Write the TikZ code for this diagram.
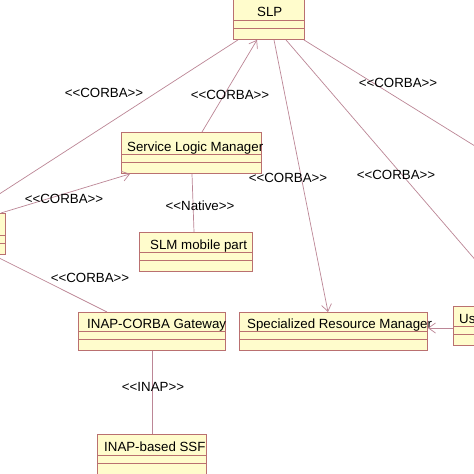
\documentclass[tikz,border=0pt]{standalone}
\usepackage{fontspec}
\setmainfont{Liberation Sans}
\usetikzlibrary{arrows.meta}

\definecolor{classfill}{RGB}{255,252,204}
\definecolor{classedge}{RGB}{186,112,112}
\definecolor{wirecol}{RGB}{188,134,150}
% stereotype text, kerns keep << and >> from turning into guillemets
\newcommand{\stereo}[1]{<\kern0pt<#1>\kern0pt>}

\begin{document}
\begin{tikzpicture}[x=1pt, y=-1pt,
    font=\fontsize{13.3}{16}\selectfont,
    cls/.style={draw=classedge, fill=classfill, line width=0.9pt, inner sep=0pt, anchor=north west},
    wire/.style={draw=wirecol, line width=0.7pt},
    txt/.style={inner sep=0pt, anchor=base west},
    lbl/.style={inner sep=0pt, anchor=base},
    >={Straight Barb[length=7pt,width=10pt]}]
    \clip (0,0) rectangle (474,474);
    \fill[white] (0,0) rectangle (474,474);

    % Class boxes (top left corner, size)
    \node[cls, minimum width=71pt,  minimum height=40pt] (slp) at (233,-1) {};
    \node[cls, minimum width=140pt, minimum height=41pt] (slm) at (121,132) {};
    \node[cls, minimum width=113pt, minimum height=39pt] (mob) at (139,232) {};
    \node[cls, minimum width=147pt, minimum height=38pt] (gw)  at (78,312) {};
    \node[cls, minimum width=188pt, minimum height=38pt] (srm) at (239,312) {};
    \node[cls, minimum width=90pt,  minimum height=39pt] (us)  at (453,306) {};
    \node[cls, minimum width=109pt, minimum height=40pt] (ssf) at (97,434) {};
    \node[cls, minimum width=95pt,  minimum height=41pt] (lft) at (-90,213) {};

    % Attribute and operation compartments
    \foreach \b in {slp,slm,mob,gw,srm,us,ssf,lft}
        \draw[classedge, line width=0.9pt]
            ([yshift=11pt]\b.south west) -- ([yshift=11pt]\b.south east)
            ([yshift=19pt]\b.south west) -- ([yshift=19pt]\b.south east);

    % Class names
    \node[txt] at (257,16.5) {SLP};
    \node[txt] at (127,151) {Service Logic Manager};
    \node[txt] at (150,249) {SLM mobile part};
    \node[txt] at (87,328) {INAP-CORBA Gateway};
    \node[txt] at (247,328) {Specialized Resource Manager};
    \node[txt] at (459,323) {Us};
    \node[txt] at (104,451) {INAP-based SSF};

    % Free end towards a class right of the picture
    \coordinate (farR) at (520,174);

    % Links of the SLP
    \draw[wire] ([xshift=-36pt]lft.north east) -- ([xshift=5pt]slp.south west);
    \draw[wire, ->] ([xshift=81pt]slm.north west) -- ([xshift=24pt]slp.south west);
    \draw[wire, ->] ([xshift=41pt]slp.south west) -- ([xshift=89pt]srm.north west);
    \draw[wire] ([xshift=53pt]slp.south west) -- ([xshift=62pt]us.north west);
    \draw[wire] ([xshift=-1pt]slp.south east) -- (farR);

    % Other links
    \draw[wire, ->] ([xshift=-5pt]lft.north east) -- ([xshift=9pt]slm.south west);
    \draw[wire] ([xshift=71pt]slm.south west) -- ([xshift=55pt]mob.north west);
    \draw[wire] ([xshift=-13pt]lft.south east) -- ([xshift=29pt]gw.north west);
    \draw[wire] ([xshift=74pt]gw.south west) -- ([xshift=55pt]ssf.north west);
    \draw[wire, ->] ([yshift=-22pt]us.north west) -- ([yshift=-16pt]srm.north east);

    % Stereotypes
    \node[lbl] at (104,97)  {\stereo{CORBA}};
    \node[lbl] at (230,99)  {\stereo{CORBA}};
    \node[lbl] at (398,87)  {\stereo{CORBA}};
    \node[lbl] at (288,182) {\stereo{CORBA}};
    \node[lbl] at (396,179) {\stereo{CORBA}};
    \node[lbl] at (64,203)  {\stereo{CORBA}};
    \node[lbl] at (200,210) {\stereo{Native}};
    \node[lbl] at (90,282)  {\stereo{CORBA}};
    \node[lbl] at (153,391) {\stereo{INAP}};
\end{tikzpicture}
\end{document}
